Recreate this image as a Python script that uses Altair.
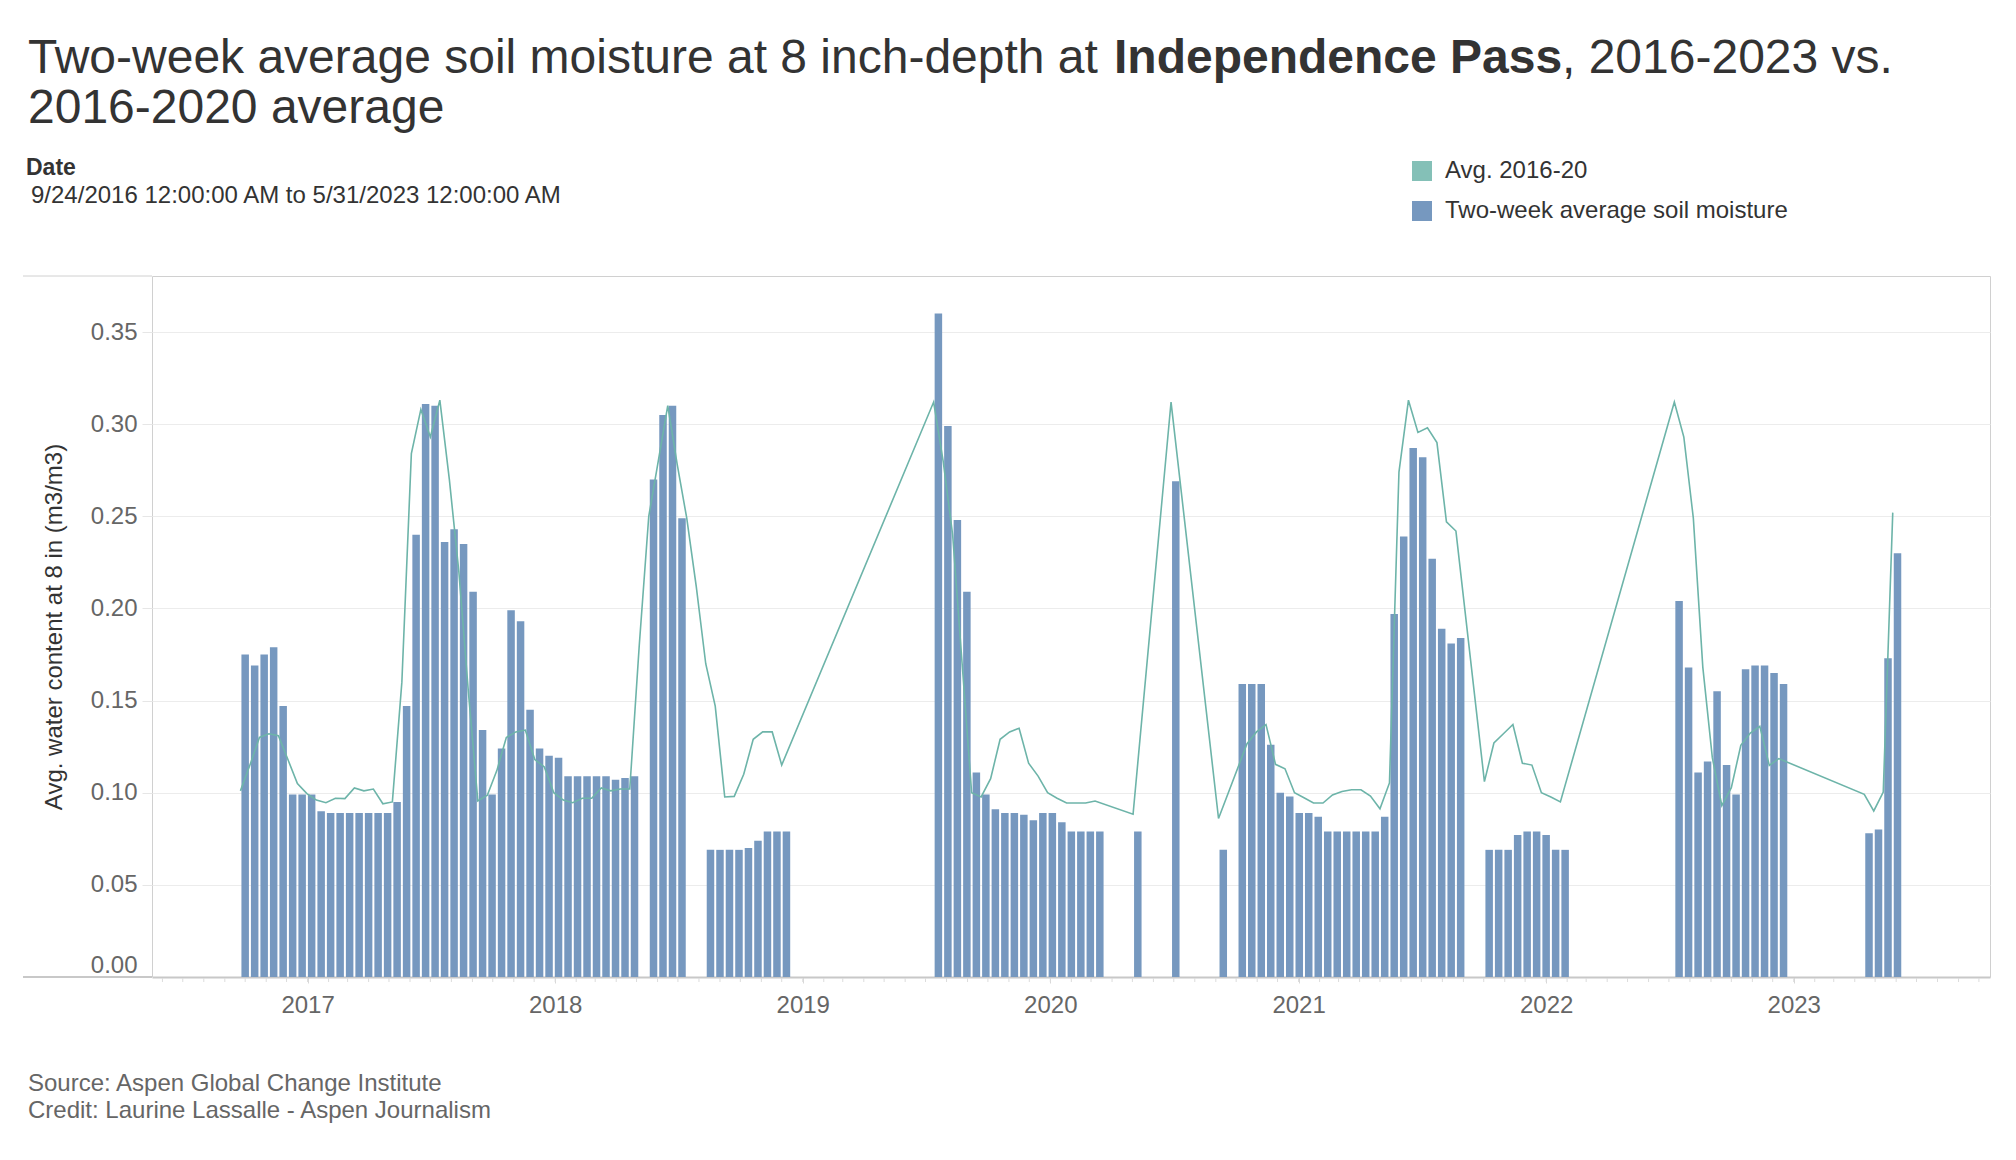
import datetime as dt

import altair as alt
import pandas as pd

FONT = "Liberation Sans"
BAR_BLUE = "#7698BF"
AVG_TEAL = "#84C0B7"
AVG_LINE = "#6DB4A9"

SERIES_BARS = "Two-week average soil moisture"
SERIES_AVG = "Avg. 2016-20"

# Two-week windows begin on 2016-09-24; window n starts 14*n days later.
WINDOW_START = dt.date(2016, 9, 24)

# Two-week average soil moisture (m3/m3) at 8 in, as runs of consecutive
# windows: (index of first window, values)
moisture_runs = [
    (0, [0.175, 0.169, 0.175, 0.179, 0.147, 0.099, 0.099, 0.099, 0.090, 0.089,
         0.089, 0.089, 0.089, 0.089, 0.089, 0.089, 0.095, 0.147, 0.240, 0.311,
         0.310, 0.236, 0.243, 0.235, 0.209, 0.134, 0.099, 0.124, 0.199, 0.193,
         0.145, 0.124, 0.120, 0.119, 0.109, 0.109, 0.109, 0.109, 0.109, 0.107,
         0.108, 0.109]),
    (43, [0.270, 0.305, 0.310, 0.249]),
    (49, [0.069, 0.069, 0.069, 0.069, 0.070, 0.074, 0.079, 0.079, 0.079]),
    (73, [0.360, 0.299, 0.248, 0.209, 0.111, 0.099, 0.091, 0.089, 0.089, 0.088,
          0.085, 0.089, 0.089, 0.084, 0.079, 0.079, 0.079, 0.079]),
    (94, [0.079]),
    (98, [0.269]),
    (103, [0.069]),
    (105, [0.159, 0.159, 0.159, 0.126, 0.100, 0.098, 0.089, 0.089, 0.087, 0.079,
           0.079, 0.079, 0.079, 0.079, 0.079, 0.087, 0.197, 0.239, 0.287, 0.282,
           0.227, 0.189, 0.181, 0.184]),
    (131, [0.069, 0.069, 0.069, 0.077, 0.079, 0.079, 0.077, 0.069, 0.069]),
    (151, [0.204, 0.168, 0.111, 0.117, 0.155, 0.115, 0.099, 0.167, 0.169, 0.169,
           0.165, 0.159]),
    (171, [0.078, 0.080, 0.173, 0.230]),
]

# 2016-2020 average for the same windows
avg_runs = [
    (0, [0.101, 0.115, 0.130, 0.132, 0.131, 0.118, 0.105, 0.0995, 0.096, 0.0946,
         0.097, 0.0968, 0.1026, 0.101, 0.102, 0.094, 0.095, 0.160, 0.284, 0.308,
         0.293, 0.313, 0.270, 0.220, 0.155, 0.0955, 0.0986, 0.112, 0.130, 0.133,
         0.134, 0.118, 0.114, 0.100, 0.096, 0.0946, 0.097, 0.097, 0.1026, 0.101,
         0.102, 0.102, 0.180, 0.250, 0.280, 0.310, 0.278, 0.249, 0.212, 0.170,
         0.147, 0.0977, 0.098, 0.110, 0.129, 0.133, 0.133, 0.115]),
    (73, [0.312, 0.280, 0.240, 0.170, 0.100, 0.0977, 0.1076, 0.129, 0.133, 0.135,
          0.116, 0.109, 0.100, 0.097, 0.0944, 0.0944, 0.0944, 0.0955]),
    (94, [0.0883]),
    (98, [0.312]),
    (103, [0.086]),
    (106, [0.1266, 0.133, 0.137, 0.1154, 0.113, 0.100, 0.0973, 0.0944, 0.0944,
           0.0988, 0.1007, 0.1016, 0.1016, 0.0982, 0.0913, 0.1053, 0.274, 0.313,
           0.2955, 0.298, 0.290, 0.247, 0.242]),
    (131, [0.106, 0.127, 0.132, 0.137, 0.116, 0.115, 0.100, 0.0977, 0.095]),
    (151, [0.312, 0.293, 0.249, 0.168, 0.119, 0.093, 0.1027, 0.1257, 0.1324,
           0.136, 0.1148, 0.1185]),
    (171, [0.0991, 0.0901, 0.1004, 0.252]),
]

y_ticks = [0.0, 0.05, 0.10, 0.15, 0.20, 0.25, 0.30, 0.35]
year_labels = [2017, 2018, 2019, 2020, 2021, 2022, 2023]

title_lead = "Two-week average soil moisture at 8 inch-depth at "
title_site = "Independence Pass"
title_tail = ", 2016-2023 vs."
title_line2 = "2016-2020 average"
filter_name = "Date"
filter_range = "9/24/2016 12:00:00 AM to 5/31/2023 12:00:00 AM"
y_title = "Avg. water content at 8 in (m3/m3)"
source_note = "Source: Aspen Global Change Institute"
credit_note = "Credit: Laurine Lassalle - Aspen Journalism"


def expand(runs, series, shift_days):
    rows = []
    for first, values in runs:
        for i, v in enumerate(values):
            day = WINDOW_START + dt.timedelta(days=14 * (first + i) + shift_days)
            rows.append({"date": day.isoformat(), "value": v, "series": series})
    return pd.DataFrame(rows)


# bars sit at the middle of their window, the average line at its start
bars_df = expand(moisture_runs, SERIES_BARS, 7)
avg_df = expand(avg_runs, SERIES_AVG, 0)

# first of every month across the axis, for the small ticks under the baseline
month_starts = []
yr, mo = 2016, 6
while (yr, mo) <= (2023, 10):
    month_starts.append(dt.date(yr, mo, 1).isoformat())
    mo += 1
    if mo > 12:
        mo, yr = 1, yr + 1
months_df = pd.DataFrame({"date": month_starts})

W, H = 1838, 701

x_scale = alt.Scale(
    type="utc",
    domain=[alt.DateTime(year=2016, month=5, date=24, utc=True),
            alt.DateTime(year=2023, month=10, date=10, utc=True)],
)

x_enc = alt.X(
    "date:T",
    scale=x_scale,
    axis=alt.Axis(
        title=None,
        values=[alt.DateTime(year=y, month=1, date=1, utc=True) for y in year_labels],
        format="%Y",
        labelOverlap=False,
        labelFlush=False,
        labelFont=FONT,
        labelFontSize=24,
        labelColor="#666666",
        labelPadding=10,
        tickSize=6,
        tickColor="#d8d8d8",
        tickWidth=1,
        grid=False,
        domainColor="#c8c8c8",
        domainWidth=2,
    ),
)

y_enc = alt.Y(
    "value:Q",
    scale=alt.Scale(domain=[0, 0.3804], nice=False, zero=True),
    axis=alt.Axis(
        title=y_title,
        titleFont=FONT,
        titleFontSize=24,
        titleFontWeight="normal",
        titleColor="#333333",
        titlePadding=24,
        values=y_ticks,
        format=".2f",
        labelFont=FONT,
        labelFontSize=24,
        labelColor="#666666",
        labelPadding=5,
        labelFlush=True,
        labelFlushOffset=0,
        tickSize=10,
        tickColor="#e6e6e6",
        domain=False,
        grid=True,
        gridColor="#ececec",
        gridWidth=1,
    ),
)

bars = alt.Chart(bars_df).mark_bar(size=7.5).encode(
    x=x_enc,
    y=y_enc,
    color=alt.Color(
        "series:N",
        scale=alt.Scale(domain=[SERIES_AVG, SERIES_BARS], range=[AVG_TEAL, BAR_BLUE]),
        legend=alt.Legend(
            title=None,
            orient="none",
            legendX=1258,
            legendY=-117,
            direction="vertical",
            symbolType="square",
            symbolSize=400,
            symbolStrokeWidth=0,
            symbolOpacity=1,
            labelFont=FONT,
            labelFontSize=24,
            labelColor="#333333",
            labelOffset=11,
            labelLimit=800,
            rowPadding=16,
        ),
    ),
)

avg_line = alt.Chart(avg_df).mark_line(color=AVG_LINE, strokeWidth=1.6).encode(
    x="date:T",
    y="value:Q",
)

# monthly minor ticks hanging below the baseline
month_ticks = alt.Chart(months_df).mark_rule(color="#dcdcdc", strokeWidth=1).encode(
    x="date:T",
    y=alt.value(H + 1),
    y2=alt.value(H + 5),
)

frame_color = "#d0d0d0"
one = pd.DataFrame({"n": [0]})
# header rule and baseline run on to the left under the value labels
top_rule = alt.Chart(one).mark_rule(color=frame_color, strokeWidth=1).encode(
    x=alt.value(-129), x2=alt.value(0), y=alt.value(0))
base_rule = alt.Chart(one).mark_rule(color="#c8c8c8", strokeWidth=2).encode(
    x=alt.value(-129), x2=alt.value(0), y=alt.value(H))


def text_layer(txt, x, y, size, weight="normal", color="#333333"):
    return alt.Chart(pd.DataFrame({"label": [txt]})).mark_text(
        align="left", baseline="alphabetic", font=FONT, fontSize=size,
        fontWeight=weight, color=color,
    ).encode(text="label:N", x=alt.value(x), y=alt.value(y))


texts = [
    text_layer(title_lead, -124, -203, 48),
    text_layer(title_site, 962, -203, 48, "bold"),
    text_layer(title_tail, 1410, -203, 48),
    text_layer(title_line2, -124, -153, 48),
    text_layer(filter_name, -126, -101, 23, "bold"),
    text_layer(filter_range, -121, -73, 24),
    text_layer(source_note, -124, 815, 24, color="#666666"),
    text_layer(credit_note, -124, 842, 24, color="#666666"),
]

chart = alt.layer(bars, avg_line, month_ticks, top_rule, base_rule, *texts).properties(
    width=W,
    height=H,
    autosize=alt.AutoSizeParams(type="none"),
    padding={"left": 152, "top": 276, "right": 26, "bottom": 183},
    background="white",
).configure_view(
    stroke=frame_color,
    strokeWidth=1,
)

chart.save("out.html", embed_options={"renderer": "svg", "actions": False})
